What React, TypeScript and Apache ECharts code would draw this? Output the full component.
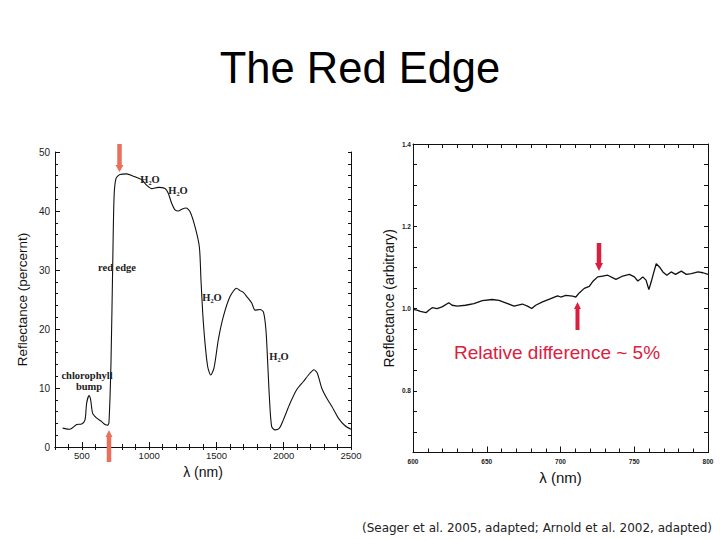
import React, { useEffect, useRef } from "react";
import * as echarts from "echarts";

// Left panel: vegetation reflectance spectrum (Seager et al. 2005)
const leftNm = [357, 411, 461, 498, 523, 535, 553, 565, 580, 610, 647, 672, 691, 701, 716, 729, 739, 753, 783, 833, 882, 944, 981, 1019, 1068, 1118, 1142, 1167, 1192, 1217, 1242, 1274, 1303, 1341, 1373, 1385, 1398, 1415, 1435, 1457, 1482, 1514, 1551, 1601, 1650, 1675, 1700, 1725, 1762, 1787, 1824, 1849, 1868, 1881, 1893, 1910, 1935, 1968, 1997, 2047, 2096, 2146, 2195, 2225, 2250, 2282, 2319, 2357, 2406, 2456, 2500];
const leftRefl = [3.2, 3.0, 3.8, 3.9, 4.6, 7.4, 8.7, 8.0, 5.7, 4.9, 4.3, 3.8, 3.7, 4.1, 14.2, 31, 42.4, 45.5, 46.2, 46.3, 45.9, 45.3, 44.4, 43.8, 44.0, 43.8, 43.0, 41.3, 40.2, 40.0, 40.3, 40.5, 39.9, 37.3, 33.9, 28.3, 22.7, 17.6, 13.6, 12.2, 13.4, 18.2, 22.1, 25.5, 26.9, 26.5, 26.2, 25.5, 24.4, 23.2, 23.3, 22.9, 19.8, 14.2, 8.6, 3.5, 2.9, 3.2, 4.6, 7.4, 9.7, 11.1, 12.5, 13.1, 12.5, 10.0, 8.3, 6.9, 4.9, 3.6, 3.0];
const leftXLabels = [500, 1000, 1500, 2000, 2500];

// Right panel: earthshine relative reflectance (Arnold et al. 2002)
const rightNm = [600, 602.7, 605, 608.8, 610.7, 613, 616.3, 619.7, 624.3, 626.5, 630, 635.6, 641.3, 647, 653.7, 658.3, 662.8, 668.5, 674.1, 677.6, 680.5, 683.2, 687.8, 693.4, 698, 700.2, 703.6, 708.2, 710.4, 712.7, 716.1, 719.5, 722.2, 725.2, 728.6, 732, 737.6, 742.2, 746.7, 750.1, 752.4, 754, 755.8, 758, 759.9, 761.5, 763, 764.9, 767.1, 769.4, 772.1, 775, 778, 781.9, 785.3, 788.7, 793.2, 796.6, 800];
const rightRefl = [0.998, 0.996, 0.993, 0.990, 0.996, 1.002, 1.000, 1.004, 1.014, 1.008, 1.006, 1.008, 1.012, 1.019, 1.022, 1.020, 1.014, 1.006, 1.011, 1.006, 1.000, 1.008, 1.016, 1.024, 1.031, 1.028, 1.032, 1.030, 1.028, 1.038, 1.049, 1.054, 1.067, 1.077, 1.079, 1.081, 1.071, 1.079, 1.083, 1.077, 1.067, 1.071, 1.077, 1.069, 1.046, 1.065, 1.085, 1.109, 1.101, 1.089, 1.081, 1.089, 1.083, 1.091, 1.083, 1.085, 1.089, 1.087, 1.083];
const rightXLabels = [600, 650, 700, 750, 800];
const rightYLabels = [0.8, 1.0, 1.2, 1.4];

const SANS = "Liberation Sans, Arial, sans-serif";
const SERIF = "Liberation Serif, DejaVu Serif, serif";

function vArrow(cx: number, yTail: number, yTip: number, sw: number, hw: number, hl: number, color: string) {
  const d = yTip > yTail ? 1 : -1;
  const yb = yTip - d * hl;
  return {
    type: "polygon",
    shape: {
      points: [
        [cx - sw / 2, yTail], [cx + sw / 2, yTail], [cx + sw / 2, yb], [cx + hw / 2, yb],
        [cx, yTip], [cx - hw / 2, yb], [cx - sw / 2, yb],
      ],
    },
    style: { fill: color },
    z: 10,
  };
}

function note(text: string, x: number, y: number) {
  return {
    type: "text",
    x, y, z: 10,
    style: { text, fill: "#222", fontSize: 10.5, fontWeight: "bold", fontFamily: SERIF, align: "center", verticalAlign: "middle" },
  };
}

const axisBlack = { lineStyle: { color: "#111", width: 1 } };

export default function App() {
  const ref = useRef<HTMLDivElement>(null);
  useEffect(() => {
    if (!ref.current) return;
    const chart = echarts.init(ref.current, null, { renderer: "svg" });
    const tick = (len: number, extra: any = {}) => ({ show: true, inside: true, length: len, lineStyle: { color: "#111", width: 1 }, ...extra });
    const option: any = {
      animation: false,
      backgroundColor: "#fff",
      title: {
        text: "The Red Edge", left: "center", top: 41,
        textStyle: { fontSize: 43.5, fontWeight: "normal", fontFamily: SANS, color: "#000" },
      },
      grid: [
        { left: 55, top: 152, width: 296, height: 295 },
        { left: 413, top: 144, width: 295, height: 308.5 },
      ],
      xAxis: [
        {
          gridIndex: 0, type: "value", position: "bottom", min: 300, max: 2500,
          axisLine: axisBlack, axisTick: tick(5, { customValues: leftXLabels }),
          axisLabel: { customValues: leftXLabels, formatter: (v: number) => String(v), fontSize: 9.5, color: "#222", margin: 3, fontFamily: SANS },
          splitLine: { show: false },
          name: "λ (nm)", nameLocation: "middle", nameGap: 12,
          nameTextStyle: { fontSize: 14, color: "#111", fontFamily: SANS },
        },
        {
          gridIndex: 0, type: "value", position: "bottom", min: 300, max: 2500, interval: 100,
          axisLine: { show: false }, axisTick: tick(3), axisLabel: { show: false }, splitLine: { show: false },
        },
        {
          gridIndex: 0, type: "value", position: "top", min: 300, max: 2500, interval: 100,
          axisLine: axisBlack, axisTick: tick(3), axisLabel: { show: false }, splitLine: { show: false },
        },
        {
          gridIndex: 1, type: "value", position: "bottom", min: 600, max: 800,
          axisLine: axisBlack, axisTick: tick(6, { customValues: rightXLabels }),
          axisLabel: { customValues: rightXLabels, formatter: (v: number) => String(v), fontSize: 6.5, color: "#222", margin: 5, fontFamily: SANS, fontWeight: "bold" },
          splitLine: { show: false },
          name: "λ (nm)", nameLocation: "middle", nameGap: 17,
          nameTextStyle: { fontSize: 15, color: "#111", fontFamily: SANS },
        },
        {
          gridIndex: 1, type: "value", position: "bottom", min: 600, max: 800, interval: 10,
          axisLine: { show: false }, axisTick: tick(4), axisLabel: { show: false }, splitLine: { show: false },
        },
        {
          gridIndex: 1, type: "value", position: "top", min: 600, max: 800, interval: 10,
          axisLine: axisBlack, axisTick: tick(4), axisLabel: { show: false }, splitLine: { show: false },
        },
      ],
      yAxis: [
        {
          gridIndex: 0, type: "value", position: "left", min: 0, max: 50, interval: 10,
          axisLine: axisBlack, axisTick: tick(5),
          axisLabel: { fontSize: 10, color: "#222", margin: 5, fontFamily: SANS },
          splitLine: { show: false },
          name: "Reflectance (percernt)", nameLocation: "middle", nameGap: 26,
          nameTextStyle: { fontSize: 13.5, color: "#111", fontFamily: SANS },
        },
        {
          gridIndex: 0, type: "value", position: "left", min: 0, max: 50, interval: 2,
          axisLine: { show: false }, axisTick: tick(3), axisLabel: { show: false }, splitLine: { show: false },
        },
        {
          gridIndex: 0, type: "value", position: "right", min: 0, max: 50, interval: 2,
          axisLine: axisBlack, axisTick: tick(3), axisLabel: { show: false }, splitLine: { show: false },
        },
        {
          gridIndex: 1, type: "value", position: "left", min: 0.65, max: 1.4, interval: 0.05,
          axisLine: axisBlack, axisTick: tick(4),
          axisLabel: {
            customValues: rightYLabels, formatter: (v: number) => v.toFixed(1),
            fontSize: 6.5, color: "#222", margin: 2, fontFamily: SANS, fontWeight: "bold",
          },
          splitLine: { show: false },
          name: "Reflectance (arbitrary)", nameLocation: "middle", nameGap: 17,
          nameTextStyle: { fontSize: 14, color: "#111", fontFamily: SANS },
        },
        {
          gridIndex: 1, type: "value", position: "right", min: 0.65, max: 1.4, interval: 0.05,
          axisLine: axisBlack, axisTick: tick(4), axisLabel: { show: false }, splitLine: { show: false },
        },
      ],
      series: [
        {
          type: "line", xAxisIndex: 0, yAxisIndex: 0, symbol: "none", smooth: 0.25,
          data: leftNm.map((x, i) => [x, leftRefl[i]]),
          lineStyle: { color: "#111", width: 1.1 },
        },
        {
          type: "line", xAxisIndex: 3, yAxisIndex: 3, symbol: "none",
          data: rightNm.map((x, i) => [x, rightRefl[i]]),
          lineStyle: { color: "#111", width: 1.3 },
        },
      ],
      graphic: [
        note("H\u2082O", 150, 179),
        note("H\u2082O", 178, 190),
        note("red edge", 117, 267),
        note("H\u2082O", 212, 297),
        note("H\u2082O", 279, 356),
        note("chlorophyll", 87, 375),
        note("bump", 89, 386.5),
        vArrow(119.5, 144, 172, 4.5, 8, 7, "#e8705c"),
        vArrow(109, 462, 430, 4.5, 7, 7, "#e8705c"),
        vArrow(599, 243, 271, 4.5, 8, 8, "#d91f3f"),
        vArrow(577.5, 330, 302, 4, 7, 7, "#d91f3f"),
        {
          type: "text", x: 557, y: 352, z: 10,
          style: { text: "Relative difference ~ 5%", fill: "#dc2040", fontSize: 19, fontFamily: SANS, align: "center", verticalAlign: "middle" },
        },
        {
          type: "text", x: 712, y: 528, z: 10,
          style: { text: "(Seager et al. 2005, adapted; Arnold et al. 2002, adapted)", fill: "#222", fontSize: 12, fontFamily: "DejaVu Sans, Verdana, sans-serif", align: "right", verticalAlign: "middle" },
        },
      ],
    };
    chart.setOption(option);
    return () => chart.dispose();
  }, []);
  return <div ref={ref} style={{ position: "absolute", left: 0, top: 0, width: 720, height: 540, background: "#fff" }} />;
}
